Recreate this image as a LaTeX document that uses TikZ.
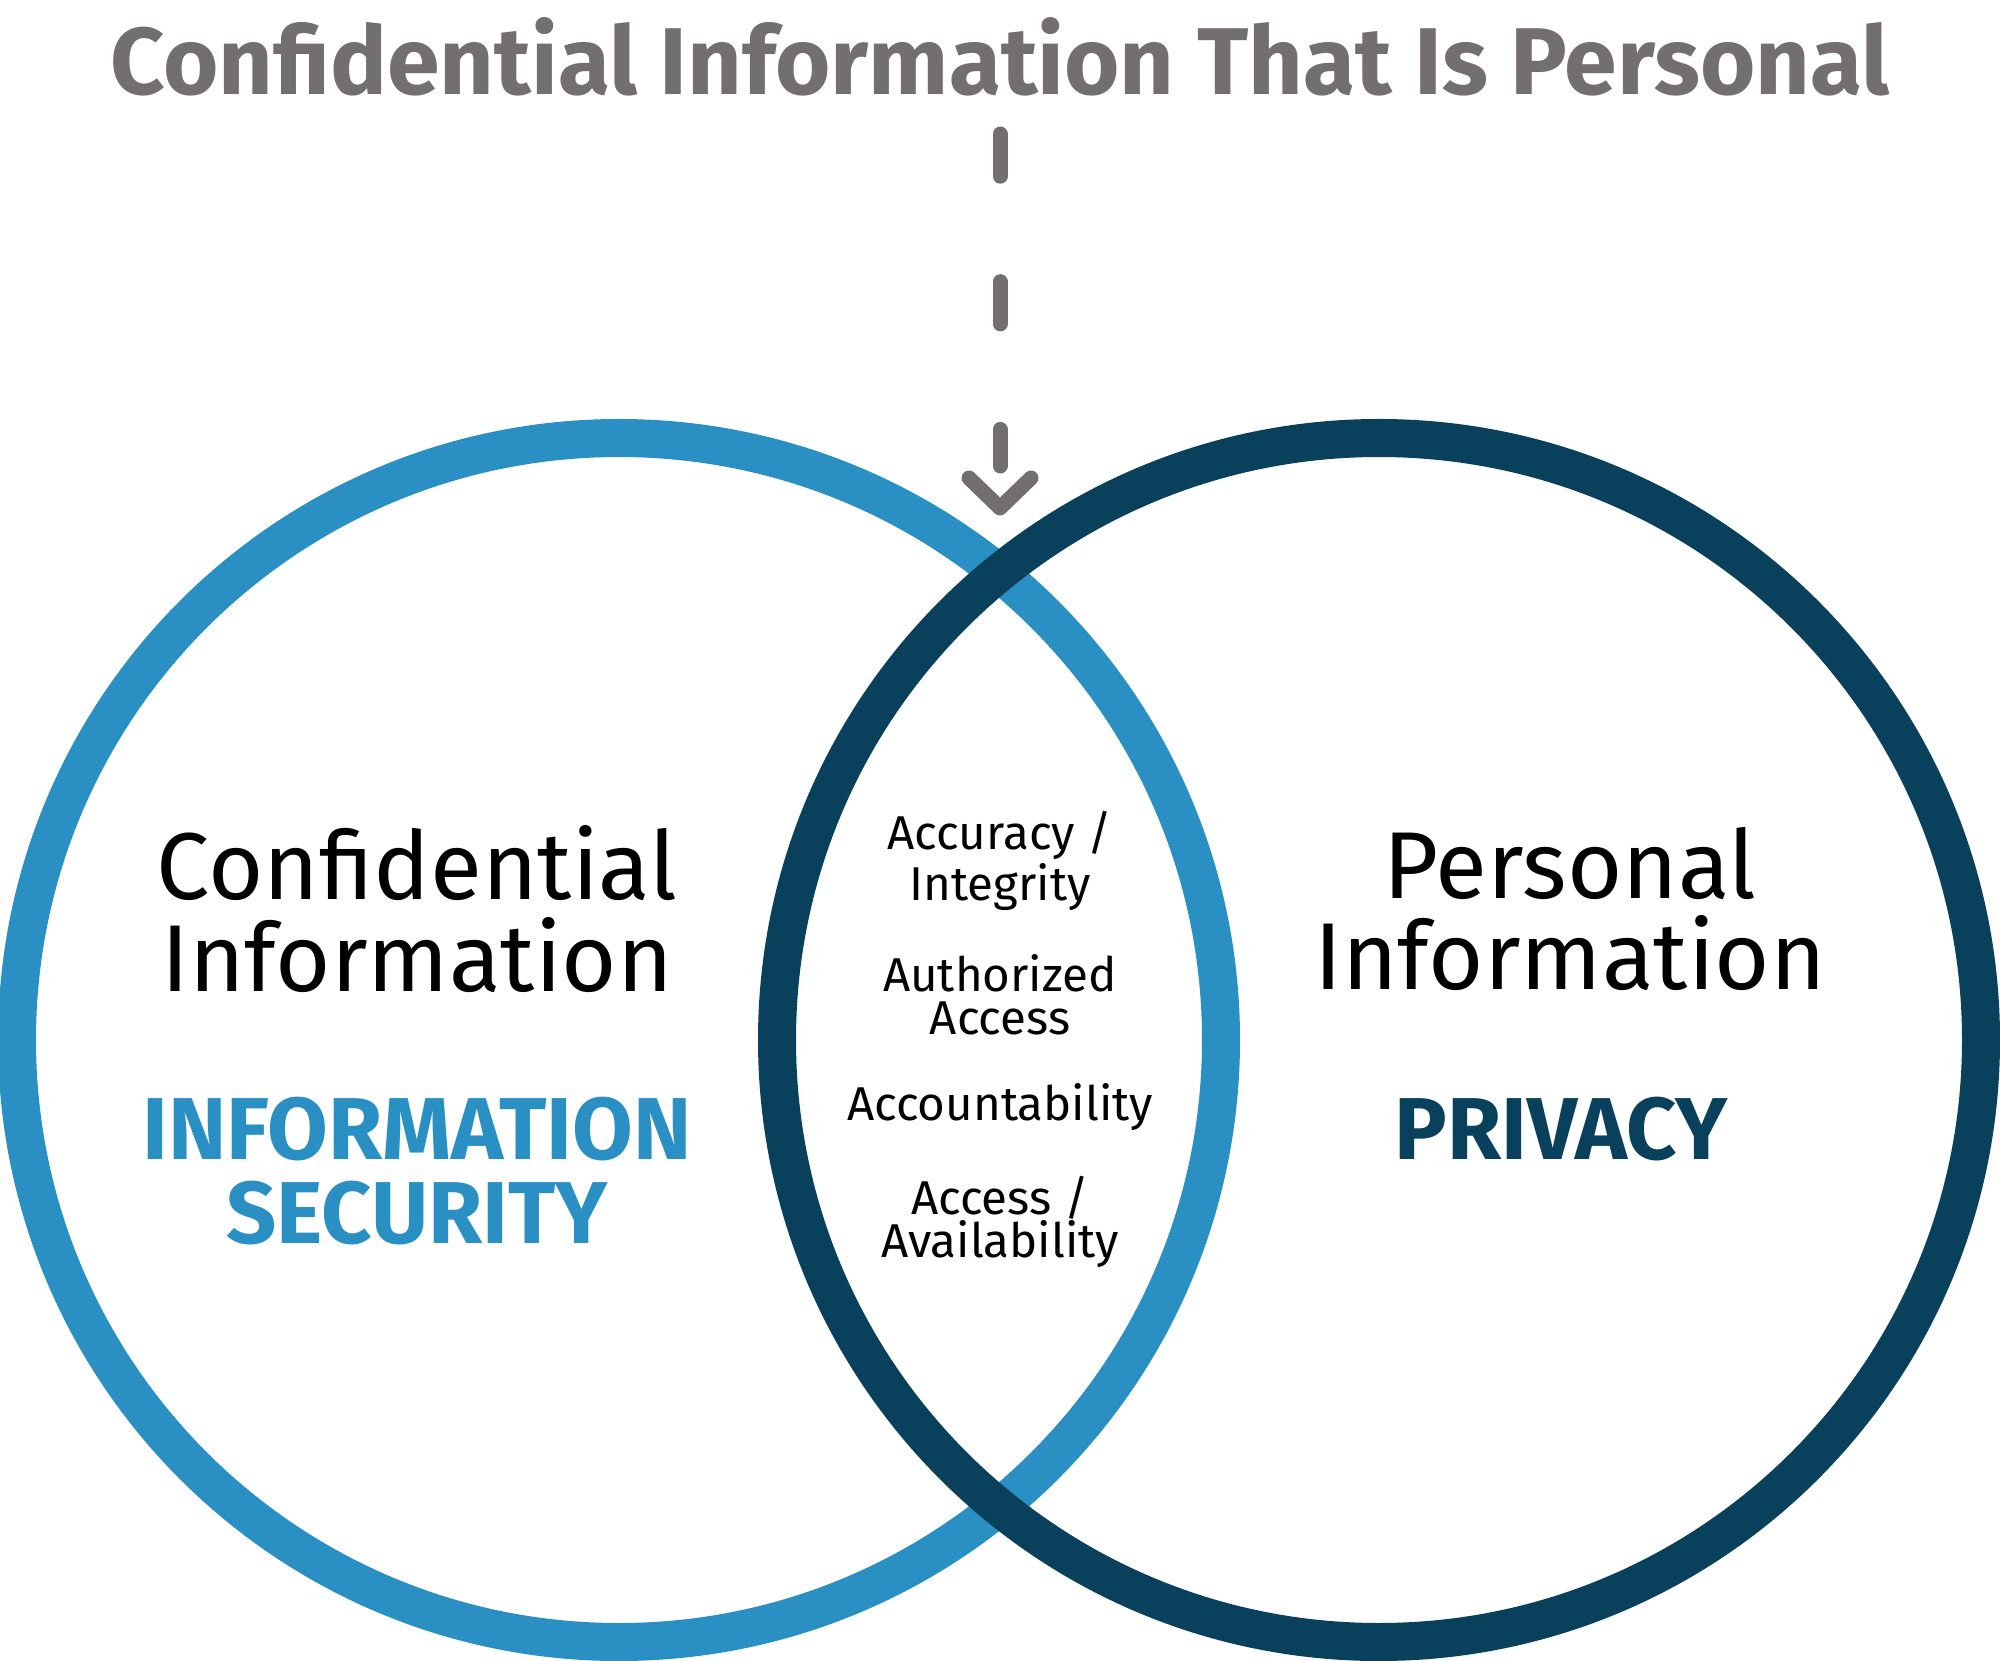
\documentclass[tikz,border=0pt]{standalone}
\usepackage{fontspec}
\setmainfont{Fira Sans}
\usetikzlibrary{positioning}
\definecolor{TitleGrey}{RGB}{115, 111, 111}
\definecolor{SecBlue}{RGB}{42, 143, 195}
\definecolor{PrivNavy}{RGB}{9, 65, 93}
\begin{document}
\begin{tikzpicture}[x=0.01cm, y=-0.01cm,
    bigtext/.style={align=center, font=\fontsize{27}{26}\selectfont},
    fieldtext/.style={align=center, font=\fontsize{25}{24}\selectfont\bfseries},
    midtext/.style={align=center, font=\fontsize{13.5}{12.3}\selectfont}]
    \useasboundingbox (0,0) rectangle (2000,1661);
    % title and arrow
    \node[font=\fontsize{27}{30}\selectfont\bfseries, text=TitleGrey] (title) at (1000,57) {Confidential Information That Is Personal};
    \coordinate (tip) at (1000,508);
    \draw[TitleGrey, line width=0.15cm, line cap=round, dash pattern=on 12 off 30] (1000,134) -- (1000,466);
    \draw[TitleGrey, line width=0.15cm, line cap=round, line join=round] (969,478) -- (tip) -- (1031,478);
    % the two rings
    \draw[SecBlue, line width=0.38cm] (619,1040) circle (602);
    \draw[PrivNavy, line width=0.38cm] (1379,1040) circle (602);
    % left
    \node[bigtext] (conf) at (417,909) {Confidential\\Information};
    \node[fieldtext, text=SecBlue] (sec) at (417,1171) {INFORMATION\\SECURITY};
    % right
    \node[bigtext] (pers) at (1570,909) {Personal\\Information};
    \node[fieldtext, text=PrivNavy] (priv) at (1561,1129) {PRIVACY};
    % overlap
    \node[midtext] (acc) at (1000,861) {Accuracy /\\Integrity};
    \node[midtext] (auth) at (1000,995) {Authorized\\Access};
    \node[midtext] (acct) at (1000,1107) {Accountability};
    \node[midtext] (avail) at (1000,1222) {Access /\\Availability};
\end{tikzpicture}
\end{document}
